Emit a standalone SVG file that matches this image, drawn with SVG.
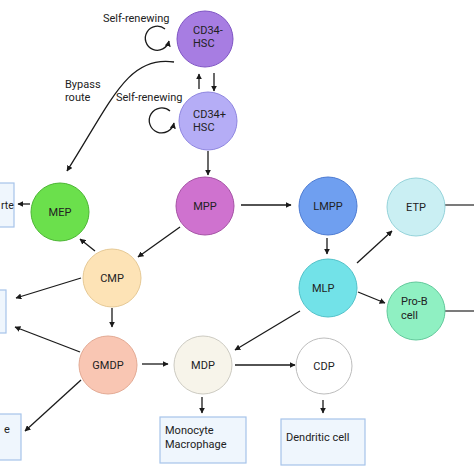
<svg xmlns="http://www.w3.org/2000/svg" width="474" height="474" viewBox="0 0 474 474">
<defs>
<marker id="ah" viewBox="0 0 10 10" refX="9" refY="5" markerWidth="6" markerHeight="6" orient="auto" markerUnits="userSpaceOnUse">
<path d="M0,0 L10,5 L0,10 z" fill="#1a1a1a"/>
</marker>
</defs>
<style>
.t{font-family:Roboto,"Liberation Sans",Arial,sans-serif;font-size:11px;fill:#222}
.lbl{font-family:Roboto,"Liberation Sans",Arial,sans-serif;font-size:11px;fill:#222}
.box{fill:#eff6fd;stroke:#a6c4ea;stroke-width:1.2}
.e{stroke:#1a1a1a;stroke-width:1.3;fill:none;marker-end:url(#ah)}
.ln{stroke:#333;stroke-width:1.3;fill:none}
</style>
<rect width="474" height="474" fill="#ffffff"/>

<g id="connectors">
<path class="e" d="M199,89 L199,74"/>
<path class="e" d="M214,73 L214,91"/>
<path class="e" d="M208,151 L208,175"/>
<path class="e" d="M174,62 C128,55 112,100 67,171"/>
<path class="e" d="M30,204 L18,204"/>
<path class="e" d="M180,227 L138,257"/>
<path class="e" d="M95,251 L80,239"/>
<path class="e" d="M81,278 L16,298"/>
<path class="e" d="M112,308 L112,327"/>
<path class="e" d="M80,352 L15,327"/>
<path class="e" d="M81,380 L25,431"/>
<path class="e" d="M142,364 L168,364"/>
<path class="e" d="M300,311 L235,350"/>
<path class="e" d="M235,365 L295,365"/>
<path class="e" d="M202,397 L202,413"/>
<path class="e" d="M323,400 L323,413"/>
<path class="e" d="M241,205 L291,205"/>
<path class="e" d="M327,238 L327,254"/>
<path class="e" d="M357,263 L392,231"/>
<path class="e" d="M358,292 L385,303"/>
<path class="ln" d="M445,205 L474,205"/>
<path class="ln" d="M445,311 L474,311"/>
<path class="e" d="M165,29 A12,12 0 1 0 169,41" stroke-width="1"/>
<path class="e" d="M170,111 A12.5,12.5 0 1 0 174,123" stroke-width="1"/>
</g>

<g id="labels">
<text class="lbl" x="103" y="22">Self-renewing</text>
<text class="lbl" x="116" y="101">Self-renewing</text>
<text class="lbl" x="65" y="88">Bypass</text>
<text class="lbl" x="65" y="101">route</text>
</g>

<g id="cd34neg"><circle cx="205" cy="39" r="28" fill="#a77de2" stroke="#7f55c4" stroke-width="1"/>
<text class="t" x="193" y="34">CD34-</text><text class="t" x="193" y="47">HSC</text></g>
<g id="cd34pos"><circle cx="208" cy="121" r="29" fill="#b5adf6" stroke="#8f86e0" stroke-width="1"/>
<text class="t" x="193" y="118">CD34+</text><text class="t" x="193" y="131">HSC</text></g>
<g id="mep"><circle cx="60" cy="212" r="29" fill="#6be04c" stroke="#4cb634" stroke-width="1"/>
<text class="t" x="60" y="216" text-anchor="middle">MEP</text></g>
<g id="mpp"><circle cx="205" cy="206" r="29" fill="#cf72cf" stroke="#a552a5" stroke-width="1"/>
<text class="t" x="205" y="210" text-anchor="middle">MPP</text></g>
<g id="cmp"><circle cx="112" cy="278" r="29" fill="#fde3b6" stroke="#e6c995" stroke-width="1"/>
<text class="t" x="112" y="282" text-anchor="middle">CMP</text></g>
<g id="gmdp"><circle cx="108" cy="365" r="29" fill="#f9c6b3" stroke="#e3aa94" stroke-width="1"/>
<text class="t" x="108" y="369" text-anchor="middle">GMDP</text></g>
<g id="mdp"><circle cx="203" cy="365" r="29" fill="#f7f4ea" stroke="#cdcbc2" stroke-width="1"/>
<text class="t" x="203" y="369" text-anchor="middle">MDP</text></g>
<g id="cdp"><circle cx="324" cy="366" r="28" fill="#ffffff" stroke="#bdbdbd" stroke-width="1"/>
<text class="t" x="324" y="370" text-anchor="middle">CDP</text></g>
<g id="lmpp"><circle cx="328" cy="206" r="29" fill="#6f9ff0" stroke="#4d7bd2" stroke-width="1"/>
<text class="t" x="328" y="210" text-anchor="middle">LMPP</text></g>
<g id="mlp"><circle cx="328" cy="288" r="29" fill="#72e2e8" stroke="#52c2c9" stroke-width="1"/>
<text class="t" x="312" y="292">MLP</text></g>
<g id="etp"><circle cx="416" cy="207" r="29" fill="#caeff3" stroke="#95d3da" stroke-width="1"/>
<text class="t" x="416" y="211" text-anchor="middle">ETP</text></g>
<g id="prob"><circle cx="416" cy="311" r="29" fill="#8ff0c2" stroke="#62c99b" stroke-width="1"/>
<text class="t" x="401" y="305">Pro-B</text><text class="t" x="401" y="319">cell</text></g>

<g id="box-ery"><rect class="box" x="-20" y="183" width="34" height="44"/>
<text class="t" x="1" y="209" style="font-size:10.5px">rte</text></g>
<g id="box-mid"><rect class="box" x="-20" y="290" width="26" height="43"/></g>
<g id="box-gran"><rect class="box" x="-20" y="414" width="41" height="46"/>
<text class="t" x="4" y="433">e</text></g>
<g id="box-mono"><rect class="box" x="160" y="417" width="86" height="46"/>
<text class="t" x="165" y="434">Monocyte</text><text class="t" x="165" y="448">Macrophage</text></g>
<g id="box-dc"><rect class="box" x="281" y="419" width="84" height="46"/>
<text class="t" x="286" y="441">Dendritic cell</text></g>
</svg>
